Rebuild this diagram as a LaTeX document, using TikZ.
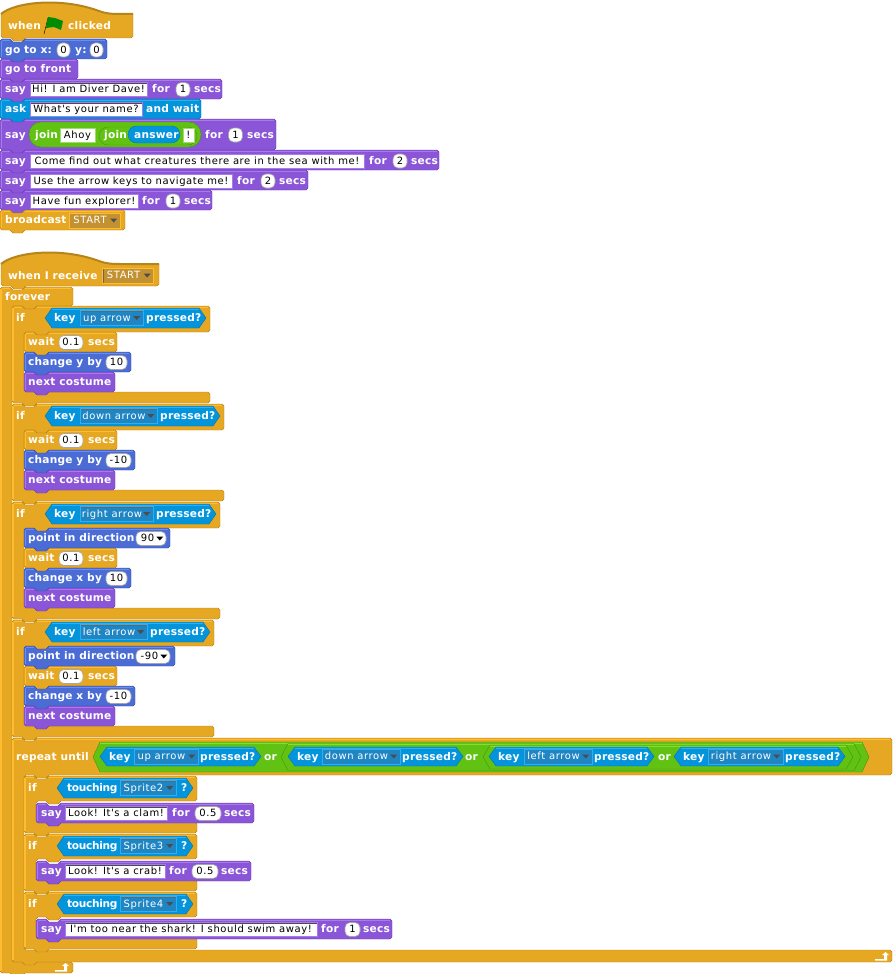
\documentclass[tikz,border=0pt]{standalone}
\usepackage{fontspec}
\setmainfont{DejaVu Sans}
\newfontfamily\blockfont{DejaVu Sans Bold}[LetterSpace=2]
\newfontfamily\tightfont{DejaVu Sans Bold}[LetterSpace=-3]
\newfontfamily\inputfont{DejaVu Sans}[LetterSpace=6]

\definecolor{ctrl}{HTML}{E6A822}
\definecolor{ctrldk}{HTML}{B5841B}
\definecolor{ctrllt}{HTML}{FFBC2E}
\definecolor{ctrlmenu}{HTML}{C29232}
\definecolor{looks}{HTML}{8A55D7}
\definecolor{looksdk}{HTML}{6C40B2}
\definecolor{lookslt}{HTML}{A87BEC}
\definecolor{motion}{HTML}{4A6CD4}
\definecolor{motiondk}{HTML}{3850A8}
\definecolor{motionlt}{HTML}{6E8CE8}
\definecolor{sense}{HTML}{0494DC}
\definecolor{sensedk}{HTML}{0375B0}
\definecolor{senselt}{HTML}{2FAFEE}
\definecolor{sensemenu}{HTML}{1F85C3}
\definecolor{ops}{HTML}{62C213}
\definecolor{opsdk}{HTML}{47950E}
\definecolor{opslt}{HTML}{84E02E}

\tikzset{
  lbl/.style={anchor=west,inner sep=0pt,yshift=-0.7pt,text=white,font=\blockfont\fontsize{10.6}{12}\selectfont,text height=8,text depth=2},
  inbox/.style={inner sep=0pt,yshift=-0.5pt,text=black,font=\inputfont\fontsize{10}{12}\selectfont,text height=8,text depth=2},
  numin/.style={inbox,fill=white,draw=#1,line width=.6,rounded corners=5,minimum height=14},
  numin/.default=black!35,
  strin/.style={inbox,fill=white,draw=#1,minimum height=14,
    path picture={\draw[black!70,line width=2] (path picture bounding box.south west) -- (path picture bounding box.north west) -- (path picture bounding box.north east);}},
  strin/.default=lookslt,
  menu/.style={inbox,fill=#1menu,draw=#1lt,minimum height=15,text=white,
    execute at begin node={\hspace*{-9pt}},
    path picture={\draw[black!60,line width=2] (path picture bounding box.south west) -- (path picture bounding box.north west) -- (path picture bounding box.north east);}},
  menutip/.style={fill=black!70,draw=none}
}

% stack block: style, x0, y0, x1, y1
\newcommand{\stackblk}[5]{
  \draw[draw=#1dk,fill=#1] (#2+2,#3) -- (#2+10,#3) -- (#2+13,#3+3) -- (#2+22,#3+3) -- (#2+25,#3) -- (#4-2,#3) -- (#4,#3+2) -- (#4,#5-2) -- (#4-2,#5) -- (#2+25,#5) -- (#2+22,#5+3) -- (#2+13,#5+3) -- (#2+10,#5) -- (#2+2,#5) -- (#2,#5-2) -- (#2,#3+2) -- cycle;
  \draw[#1lt] (#2+2,#3+1) -- (#2+10,#3+1);
  \draw[#1lt] (#2+25,#3+1) -- (#4-2,#3+1);
  \draw[#1lt] (#2+1,#3+2) -- (#2+1,#5-2);
}

% c block: x0, y0, x1, y head end, y bar start, y bottom
\newcommand{\cblk}[6]{
  \draw[draw=ctrldk,fill=ctrl] (#1+2,#2) -- (#1+10,#2) -- (#1+13,#2+3) -- (#1+22,#2+3) -- (#1+25,#2) -- (#3-2,#2) -- (#3,#2+2) -- (#3,#4-2) -- (#3-2,#4) -- (#1+37,#4) -- (#1+34,#4+3) -- (#1+25,#4+3) -- (#1+22,#4) -- (#1+14,#4) -- (#1+12,#4+2) -- (#1+12,#5-2) -- (#1+14,#5) -- (#3-2,#5) -- (#3,#5+2) -- (#3,#6-2) -- (#3-2,#6) -- (#1+25,#6) -- (#1+22,#6+3) -- (#1+13,#6+3) -- (#1+10,#6) -- (#1+2,#6) -- (#1,#6-2) -- (#1,#2+2) -- cycle;
  \draw[ctrllt] (#1+25,#2+1) -- (#3-2,#2+1);
  \draw[ctrllt] (#1+2,#2+1) -- (#1+10,#2+1);
  \draw[ctrllt,line width=1.5] (#1+1,#2+2) -- (#1+1,#6-2);
}

% hat block: x0, y top of body, x1, y1
\newcommand{\hatblk}[4]{
  \draw[draw=ctrldk,fill=ctrl] (#1,#2) .. controls (#1+14,#2-12) and (#1+60,#2-17) .. (#1+98,#2-3) .. controls (#1+106,#2) and (#1+112,#2) .. (#1+120,#2) -- (#3,#2) -- (#3,#4-2) -- (#3-2,#4) -- (#1+25,#4) -- (#1+22,#4+3) -- (#1+13,#4+3) -- (#1+10,#4) -- (#1+2,#4) -- (#1,#4-2) -- cycle;
  \draw[ctrldk,line width=2] (#1,#2) .. controls (#1+14,#2-12) and (#1+60,#2-17) .. (#1+98,#2-3) .. controls (#1+106,#2) and (#1+112,#2) .. (#1+120,#2) -- (#3,#2);
}

% boolean: style, x0, x1, y0, y1
\newcommand{\boolhex}[5]{
  \pgfmathsetmacro{\ymid}{(#4+#5)/2}
  \draw[draw=#1dk,fill=#1] (#2,\ymid) -- (#2+7,#4) -- (#3-7,#4) -- (#3,\ymid) -- (#3-7,#5) -- (#2+7,#5) -- cycle;
  \draw[#1lt] (#2+7,#4+1) -- (#3-7,#4+1);
}

\begin{document}
\begin{tikzpicture}[x=1pt,y=-1pt]
\useasboundingbox (0,0) rectangle (892,974);

% first script
\hatblk{1}{14}{133}{38}
\foreach \sty/\xe/\ya/\yb in {motion/107/39/59, looks/78/59/79, looks/222/79/99, sense/201/99/119,
  looks/276/119/150, looks/439/150/170, looks/308/170/190, looks/212/190/210, ctrl/125/210/230}
{
  \stackblk{\sty}{0}{\ya}{\xe}{\yb}
}
\path (8,25.5) node[lbl] (whenA) {when};
\draw[black] (44,34) -- (48,18);
\fill[green!55!black] (48,17) -- (55,18) -- (63,21) -- (61,30) -- (54,27) -- (46,28) -- cycle;
\path (68,25.5) node[lbl] (clicked) {clicked};

\path (5,49.5) node[lbl] (goto) {go to x:};
\path (63.5,49.5) node[numin,minimum width=13] (gox) {0};
\path (75,49.5) node[lbl] (gotoy) {y:};
\path (96.5,49.5) node[numin,minimum width=13] (goy) {0};
\path (5,69) node[lbl] (front) {go to front};

\foreach \nm/\y/\txt/\bx/\bw/\num/\fx in {
  hi/89/{Hi! I am Diver Dave!}/88.5/117/1/152,
  come/160.5/{Come find out what creatures there are in the sea with me!}/197/334/2/369,
  use/180.5/{Use the arrow keys to navigate me!}/131/202/2/237,
  have/200.5/{Have fun explorer!}/84/108/1/142}
{
  \path (5,\y) node[lbl] (say\nm) {say};
  \path (\bx,\y) node[strin,minimum width=\bw] (str\nm) {\txt};
  \path (\fx,\y) node[lbl] (for\nm) {for};
  \path (\fx+31,\y) node[numin,minimum width=14] (num\nm) {\num};
  \path (\fx+42,\y) node[lbl] (secs\nm) {secs};
}

\path (5,109) node[lbl] (ask) {ask};
\path (86,109) node[strin,minimum width=112] (strname) {What's your name?};
\path (146,109) node[lbl] (andwait) {and wait};

\path (5,134.5) node[lbl] (sayjoin) {say};
\draw[draw=opsdk,fill=ops,rounded corners=12] (29,122) rectangle (201,147);
\path (35,134.5) node[lbl] (joinA) {join};
\path (77.5,134.5) node[strin=ops!60!white,minimum width=35] (strahoy) {Ahoy};
\draw[draw=opsdk,fill=ops,rounded corners=9] (99,127) rectangle (197,145);
\path (104,135) node[lbl] (joinB) {join};
\draw[draw=sensedk,fill=sense,rounded corners=8.5] (128,126) rectangle (180,143);
\path (134,134.5) node[lbl] (answer) {answer};
\path (188.5,134.5) node[strin=ops!60!white,minimum width=11] (strbang) {!};
\path (205,134.5) node[lbl] (forjoin) {for};
\path (235.5,134.5) node[numin,minimum width=14] (numjoin) {1};
\path (247,134.5) node[lbl] (secsjoin) {secs};

\path (5,220) node[lbl] (broadcast) {broadcast};
\path (94.5,220) node[menu=ctrl,minimum width=51] (menubc) {START};
\fill[menutip] (menubc.east) ++(-10,-2) -- ++(7,0) -- ++(-3.5,4) -- cycle;

% second script, from the outside in
\hatblk{1}{264}{159}{286}
\path (8,275.5) node[lbl] (whenB) {when I receive};
\path (128,275) node[menu=ctrl,minimum width=51] (menurc) {START};
\fill[menutip] (menurc.east) ++(-10,-2) -- ++(7,0) -- ++(-3.5,4) -- cycle;

\cblk{0}{287}{73}{306}{962}{973}
\path (5,297) node[lbl] (forever) {forever};

\cblk{12}{306}{210}{332}{392}{403}
\cblk{12}{404}{224}{430}{490}{501}
\cblk{12}{502}{220}{528}{608}{619}
\cblk{12}{620}{214}{646}{726}{737}
\cblk{12}{738}{892}{775}{950}{962}

\foreach \nm/\xb/\y/\dc/\dw/\lab in {
  up/206/318/111.5/63/up arrow,
  down/220/416/118.5/77/down arrow,
  right/216/514/116.5/73/right arrow,
  left/210/632/113.5/67/left arrow}
{
  \path (16,\y) node[lbl] (if\nm) {if};
  \boolhex{sense}{45}{\xb}{\y-10}{\y+10}
  \path (54,\y) node[lbl] (key\nm) {key};
  \path (\dc,\y-.5) node[menu=sense,minimum width=\dw] (menu\nm) {\lab};
  \fill[menutip] (menu\nm.east) ++(-10,-2) -- ++(7,0) -- ++(-3.5,4) -- cycle;
  \path (\dc+\dw/2+3,\y) node[lbl] (press\nm) {pressed?};
}

% blocks inside the four ifs
\foreach \y in {342,440,558,676}
{
  \stackblk{ctrl}{24}{\y-10}{117}{\y+10}
  \path (28,\y) node[lbl] (wait\y) {wait};
  \path (71,\y) node[numin,minimum width=24] (num\y) {0.1};
  \path (88,\y) node[lbl] (secs\y) {secs};
}
\foreach \y/\lab/\xe/\bx/\bw/\val in {362/y/131/116.5/21/10, 460/y/135/118.5/25/-10, 578/x/131/116.5/21/10, 696/x/135/118.5/25/-10}
{
  \stackblk{motion}{24}{\y-10}{\xe}{\y+10}
  \path (28,\y) node[lbl] (change\y) {change \lab\ by};
  \path (\bx,\y) node[numin,minimum width=\bw] (val\y) {\val};
}
\foreach \y in {382,480,598,716}
{
  \stackblk{looks}{24}{\y-10}{115}{\y+10}
  \path (28,\y) node[lbl] (next\y) {next costume};
}
\foreach \y/\xe/\bx/\bw/\val in {538/170/151/30/90, 656/175/153/34/-90}
{
  \stackblk{motion}{24}{\y-10}{\xe}{\y+10}
  \path (28,\y) node[lbl] (point\y) {point in direction};
  \path (\bx,\y) node[numin,minimum width=\bw,execute at begin node={\hspace*{-7pt}}] (dir\y) {\val};
  \fill[black] (dir\y.east) ++(-10,-2) -- ++(7,0) -- ++(-3.5,4) -- cycle;
}

% the long condition
\path (16,756.5) node[lbl] (repeat) {repeat until};
\boolhex{ops}{93}{869}{742}{772}
\path (264,756.5) node[lbl] (orA) {or};
\boolhex{ops}{281}{861}{743.5}{770.5}
\path (465,756.5) node[lbl] (orB) {or};
\boolhex{ops}{483}{853}{745}{769}
\path (658,756.5) node[lbl] (orC) {or};
\foreach \nm/\xa/\xb/\dc/\dw/\lab in {
  a/100/261/166/64/up arrow,
  b/288/463/361/78/down arrow,
  c/489/654/558/68/left arrow,
  d/674/845/745.5/75/right arrow}
{
  \boolhex{sense}{\xa}{\xb}{747}{766}
  \path (\xa+9,756.5) node[lbl] (key\nm) {key};
  \path (\dc,756) node[menu=sense,minimum width=\dw] (menu\nm) {\lab};
  \fill[menutip] (menu\nm.east) ++(-10,-2) -- ++(7,0) -- ++(-3.5,4) -- cycle;
  \path (\dc+\dw/2+2,756.5) node[lbl] (press\nm) {pressed?};
}

% ifs inside the repeat
\cblk{24}{776}{197}{801}{822}{833}
\cblk{24}{834}{197}{859}{880}{891}
\cblk{24}{892}{197}{917}{938}{949}
\foreach \y/\lab in {788/2, 846/3, 904/4}
{
  \path (28,\y) node[lbl] (ifs\lab) {if};
  \boolhex{sense}{57}{193}{\y-10}{\y+10}
  \path (67,\y) node[lbl,font=\tightfont\fontsize{10.6}{12}\selectfont] (touch\lab) {touching};
  \path (148,\y-.5) node[menu=sense,minimum width=56] (sprite\lab) {Sprite\lab};
  \fill[menutip] (sprite\lab.east) ++(-10,-2) -- ++(7,0) -- ++(-3.5,4) -- cycle;
  \path (181,\y) node[lbl] (qm\lab) {?};
}
\foreach \nm/\y/\xe/\txt/\bx/\bw/\num/\fx/\nc/\nw in {
  clam/813/254/{Look! It's a clam!}/116/102/0.5/172/208/26,
  crab/871/251/{Look! It's a crab!}/115/100/0.5/169/205/26,
  shark/929/392/{I'm too near the shark! I should swim away!}/191/252/1/321/352.5/15}
{
  \stackblk{looks}{36}{\y-10}{\xe}{\y+10}
  \path (41,\y) node[lbl] (say\nm) {say};
  \path (\bx,\y) node[strin,minimum width=\bw] (str\nm) {\txt};
  \path (\fx,\y) node[lbl] (for\nm) {for};
  \path (\nc,\y) node[numin,minimum width=\nw] (num\nm) {\num};
  \path (\nc+\nw/2+3,\y) node[lbl] (secs\nm) {secs};
}

% turn arrows
\foreach \xa/\ya in {55/970, 875/959}
{
  \fill[white] (\xa,\ya) -- ++(9,0) -- ++(0,-4) -- ++(-2,0) -- ++(3.5,-3) -- ++(3.5,3) -- ++(-2,0) -- ++(0,5.5) -- ++(-12,0) -- cycle;
}
\end{tikzpicture}
\end{document}
